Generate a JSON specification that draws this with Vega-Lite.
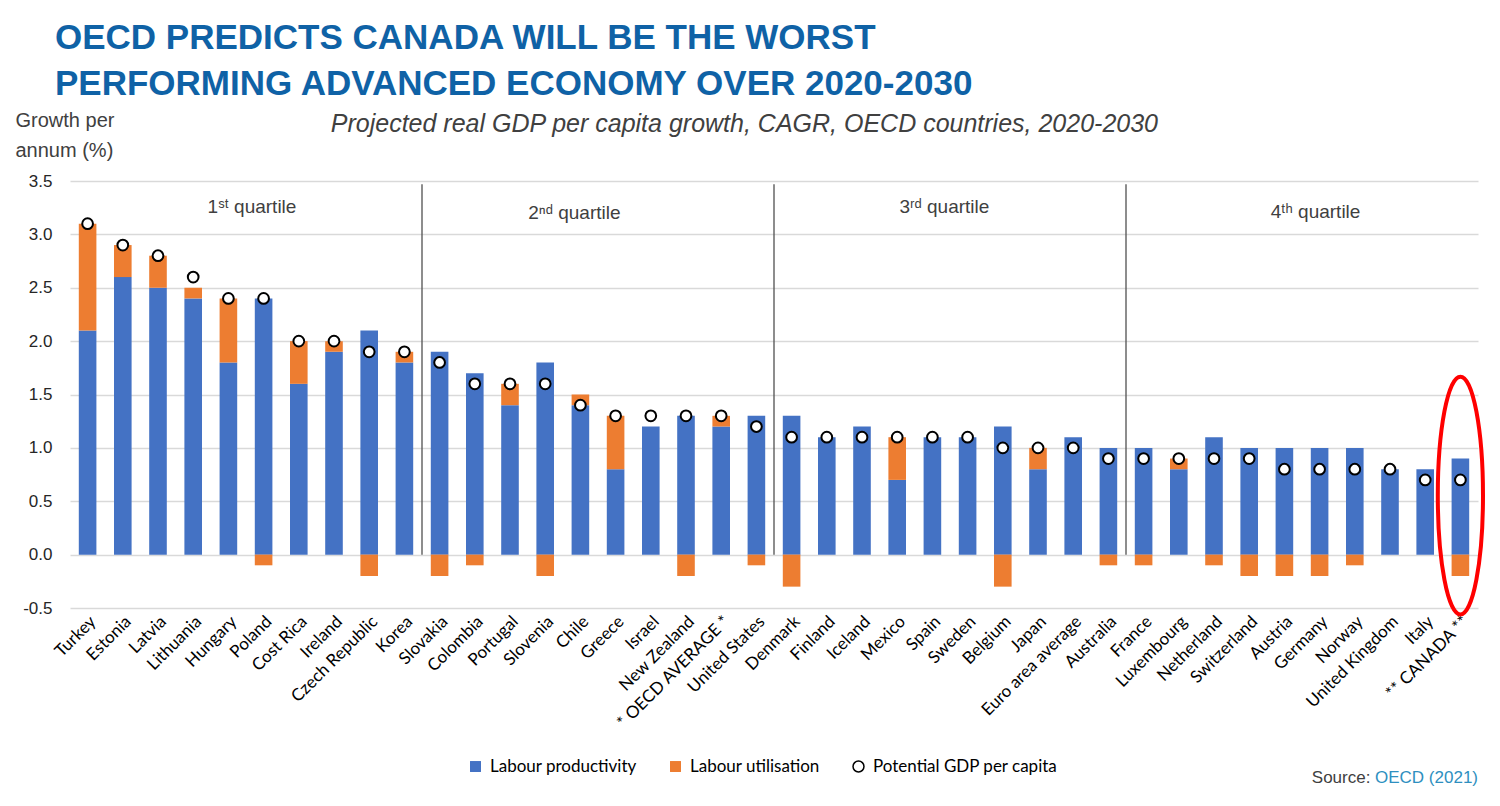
{
  "$schema": "https://vega.github.io/schema/vega-lite/v6.json",
  "width": 1408,
  "height": 427,
  "autosize": {"type": "none"},
  "padding": {"left": 70, "top": 181, "right": 22, "bottom": 198},
  "background": "white",
  "title": {
    "text": ["OECD PREDICTS CANADA WILL BE THE WORST", "PERFORMING ADVANCED ECONOMY OVER 2020-2030"],
    "anchor": "start",
    "frame": "group",
    "dx": -15,
    "font": "Liberation Sans",
    "fontSize": 35,
    "fontWeight": "bold",
    "color": "#0F62A6",
    "lineHeight": 46,
    "offset": 8
  },
  "config": {"view": {"stroke": null}},
  "data": {
    "values": [
      {"country": "Turkey", "productivity": 2.1, "utilisation": 1.0, "potential": 3.1},
      {"country": "Estonia", "productivity": 2.6, "utilisation": 0.3, "potential": 2.9},
      {"country": "Latvia", "productivity": 2.5, "utilisation": 0.3, "potential": 2.8},
      {"country": "Lithuania", "productivity": 2.4, "utilisation": 0.1, "potential": 2.6},
      {"country": "Hungary", "productivity": 1.8, "utilisation": 0.6, "potential": 2.4},
      {"country": "Poland", "productivity": 2.4, "utilisation": -0.1, "potential": 2.4},
      {"country": "Cost Rica", "productivity": 1.6, "utilisation": 0.4, "potential": 2.0},
      {"country": "Ireland", "productivity": 1.9, "utilisation": 0.1, "potential": 2.0},
      {"country": "Czech Republic", "productivity": 2.1, "utilisation": -0.2, "potential": 1.9},
      {"country": "Korea", "productivity": 1.8, "utilisation": 0.1, "potential": 1.9},
      {"country": "Slovakia", "productivity": 1.9, "utilisation": -0.2, "potential": 1.8},
      {"country": "Colombia", "productivity": 1.7, "utilisation": -0.1, "potential": 1.6},
      {"country": "Portugal", "productivity": 1.4, "utilisation": 0.2, "potential": 1.6},
      {"country": "Slovenia", "productivity": 1.8, "utilisation": -0.2, "potential": 1.6},
      {"country": "Chile", "productivity": 1.4, "utilisation": 0.1, "potential": 1.4},
      {"country": "Greece", "productivity": 0.8, "utilisation": 0.5, "potential": 1.3},
      {"country": "Israel", "productivity": 1.2, "utilisation": 0.0, "potential": 1.3},
      {"country": "New Zealand", "productivity": 1.3, "utilisation": -0.2, "potential": 1.3},
      {"country": "* OECD AVERAGE *", "productivity": 1.2, "utilisation": 0.1, "potential": 1.3},
      {"country": "United States", "productivity": 1.3, "utilisation": -0.1, "potential": 1.2},
      {"country": "Denmark", "productivity": 1.3, "utilisation": -0.3, "potential": 1.1},
      {"country": "Finland", "productivity": 1.1, "utilisation": 0.0, "potential": 1.1},
      {"country": "Iceland", "productivity": 1.2, "utilisation": 0.0, "potential": 1.1},
      {"country": "Mexico", "productivity": 0.7, "utilisation": 0.4, "potential": 1.1},
      {"country": "Spain", "productivity": 1.1, "utilisation": 0.0, "potential": 1.1},
      {"country": "Sweden", "productivity": 1.1, "utilisation": 0.0, "potential": 1.1},
      {"country": "Belgium", "productivity": 1.2, "utilisation": -0.3, "potential": 1.0},
      {"country": "Japan", "productivity": 0.8, "utilisation": 0.2, "potential": 1.0},
      {"country": "Euro area average", "productivity": 1.1, "utilisation": 0.0, "potential": 1.0},
      {"country": "Australia", "productivity": 1.0, "utilisation": -0.1, "potential": 0.9},
      {"country": "France", "productivity": 1.0, "utilisation": -0.1, "potential": 0.9},
      {"country": "Luxembourg", "productivity": 0.8, "utilisation": 0.1, "potential": 0.9},
      {"country": "Netherland", "productivity": 1.1, "utilisation": -0.1, "potential": 0.9},
      {"country": "Switzerland", "productivity": 1.0, "utilisation": -0.2, "potential": 0.9},
      {"country": "Austria", "productivity": 1.0, "utilisation": -0.2, "potential": 0.8},
      {"country": "Germany", "productivity": 1.0, "utilisation": -0.2, "potential": 0.8},
      {"country": "Norway", "productivity": 1.0, "utilisation": -0.1, "potential": 0.8},
      {"country": "United Kingdom", "productivity": 0.8, "utilisation": 0.0, "potential": 0.8},
      {"country": "Italy", "productivity": 0.8, "utilisation": 0.0, "potential": 0.7},
      {"country": "** CANADA **", "productivity": 0.9, "utilisation": -0.2, "potential": 0.7}
    ]
  },
  "encoding": {
    "x": {
      "field": "country",
      "type": "nominal",
      "scale": {
        "domain": ["Turkey","Estonia","Latvia","Lithuania","Hungary","Poland","Cost Rica","Ireland","Czech Republic","Korea","Slovakia","Colombia","Portugal","Slovenia","Chile","Greece","Israel","New Zealand","* OECD AVERAGE *","United States","Denmark","Finland","Iceland","Mexico","Spain","Sweden","Belgium","Japan","Euro area average","Australia","France","Luxembourg","Netherland","Switzerland","Austria","Germany","Norway","United Kingdom","Italy","** CANADA **"],
        "paddingInner": 0,
        "paddingOuter": 0
      },
      "axis": {
        "title": null,
        "labelAngle": -45,
        "labelAlign": "right",
        "labelBaseline": "top",
        "labelFont": "Lato",
        "labelFontSize": 17,
        "labelColor": "#000000",
        "labelPadding": 5,
        "domain": false,
        "ticks": false,
        "grid": false
      }
    }
  },
  "layer": [
    {
      "transform": [{"fold": ["productivity", "utilisation"], "as": ["series", "value"]}],
      "mark": {"type": "bar", "width": {"band": 0.5}},
      "encoding": {
        "y": {
          "field": "value",
          "type": "quantitative",
          "stack": "zero",
          "scale": {"domain": [-0.5, 3.5], "nice": false, "zero": false},
          "axis": {
            "values": [-0.5, 0, 0.5, 1, 1.5, 2, 2.5, 3, 3.5],
            "labelExpr": "datum.value < 0 ? '-' + format(-datum.value, '.1f') : format(datum.value, '.1f')",
            "labelFont": "Liberation Sans",
            "labelFontSize": 17,
            "labelColor": "#262626",
            "labelPadding": 18,
            "domain": false,
            "ticks": false,
            "gridColor": "#d9d9d9",
            "gridWidth": 1.5,
            "title": ["Growth per", "annum (%)"],
            "titleAngle": 0,
            "titleAlign": "left",
            "titleBaseline": "top",
            "titleX": -55,
            "titleY": -71,
            "titleFont": "Liberation Sans",
            "titleFontSize": 20,
            "titleFontWeight": "normal",
            "titleColor": "#404040",
            "titleLineHeight": 30
          }
        },
        "order": {"field": "series", "sort": "ascending"},
        "color": {
          "field": "series",
          "type": "nominal",
          "scale": {"domain": ["productivity", "utilisation", "potential"], "range": ["#4472C4", "#ED7D31", "#ffffff"]},
          "legend": {
            "title": null,
            "orient": "none",
            "legendX": 397,
            "legendY": 577,
            "direction": "horizontal",
            "symbolType": "square",
            "symbolSize": 120,
            "labelFont": "Lato",
            "labelFontSize": 17,
            "labelColor": "#000000",
            "labelOffset": 6,
            "labelLimit": 400,
            "columnPadding": 30,
            "labelExpr": "datum.value == 'productivity' ? 'Labour productivity' : datum.value == 'utilisation' ? 'Labour utilisation' : 'Potential GDP per capita'",
            "encode": {
              "symbols": {
                "update": {
                  "shape": [{"test": "datum.value === 'potential'", "value": "circle"}, {"value": "square"}],
                  "stroke": [{"test": "datum.value === 'potential'", "value": "#000000"}, {"value": "transparent"}],
                  "strokeWidth": {"value": 1.5}
                }
              }
            }
          }
        }
      }
    },
    {
      "mark": {"type": "point", "shape": "circle", "filled": true, "fill": "#ffffff", "stroke": "#000000", "strokeWidth": 2, "size": 115, "opacity": 1},
      "encoding": {
        "y": {"field": "potential", "type": "quantitative"}
      }
    },
    {
      "data": {"values": [{"country": "Slovakia"}, {"country": "Denmark"}, {"country": "France"}]},
      "mark": {"type": "rule", "color": "#505050", "strokeWidth": 1.3},
      "encoding": {
        "x": {"field": "country", "type": "nominal", "bandPosition": 0},
        "y": {"datum": 3.47},
        "y2": {"datum": 0}
      }
    },
    {
      "data": {"values": [{}]},
      "mark": {"type": "text", "font": "Liberation Sans", "fontSize": 19, "color": "#404040", "align": "center", "baseline": "middle", "dx": -11.6},
      "encoding": {"x": {"datum": "Poland"}, "y": {"datum": 3.26}, "text": {"value": "1ˢᵗ quartile"}}
    },
    {
      "data": {"values": [{}]},
      "mark": {"type": "text", "font": "Liberation Sans", "fontSize": 19, "color": "#404040", "align": "center", "baseline": "middle", "dx": -6},
      "encoding": {"x": {"datum": "Chile"}, "y": {"datum": 3.2}, "text": {"value": "2ⁿᵈ quartile"}}
    },
    {
      "data": {"values": [{}]},
      "mark": {"type": "text", "font": "Liberation Sans", "fontSize": 19, "color": "#404040", "align": "center", "baseline": "middle", "dx": 12},
      "encoding": {"x": {"datum": "Spain"}, "y": {"datum": 3.26}, "text": {"value": "3ʳᵈ quartile"}}
    },
    {
      "data": {"values": [{}]},
      "mark": {"type": "text", "font": "Liberation Sans", "fontSize": 19, "color": "#404040", "align": "center", "baseline": "middle", "dx": -4},
      "encoding": {"x": {"datum": "Germany"}, "y": {"datum": 3.21}, "text": {"value": "4ᵗʰ quartile"}}
    },
    {
      "data": {"values": [{}]},
      "mark": {"type": "text", "font": "Liberation Sans", "fontSize": 25, "fontStyle": "italic", "color": "#404040", "align": "center", "baseline": "middle", "dx": -12},
      "encoding": {"x": {"datum": "United States"}, "y": {"datum": 4.035}, "text": {"value": "Projected real GDP per capita growth, CAGR, OECD countries, 2020-2030"}}
    },
    {
      "data": {"values": [{}]},
      "mark": {"type": "point", "shape": "M 0 -1 C 0.105 -1 0.19 -0.552 0.19 0 C 0.19 0.552 0.105 1 0 1 C -0.105 1 -0.19 0.552 -0.19 0 C -0.19 -0.552 -0.105 -1 0 -1 Z", "size": 56600, "filled": false, "stroke": "#FF0000", "strokeWidth": 4, "opacity": 1},
      "encoding": {"x": {"datum": "** CANADA **"}, "y": {"datum": 0.553}}
    },
    {
      "data": {"values": [{}]},
      "mark": {"type": "text", "font": "Liberation Sans", "fontSize": 17, "color": "#2E8FC0", "align": "right", "baseline": "middle", "dx": 17.6},
      "encoding": {"x": {"datum": "** CANADA **"}, "y": {"datum": -2.09}, "text": {"value": "OECD (2021)"}}
    },
    {
      "data": {"values": [{}]},
      "mark": {"type": "text", "font": "Liberation Sans", "fontSize": 17, "color": "#404040", "align": "right", "baseline": "middle", "dx": -90},
      "encoding": {"x": {"datum": "** CANADA **"}, "y": {"datum": -2.09}, "text": {"value": "Source:"}}
    }
  ]
}
